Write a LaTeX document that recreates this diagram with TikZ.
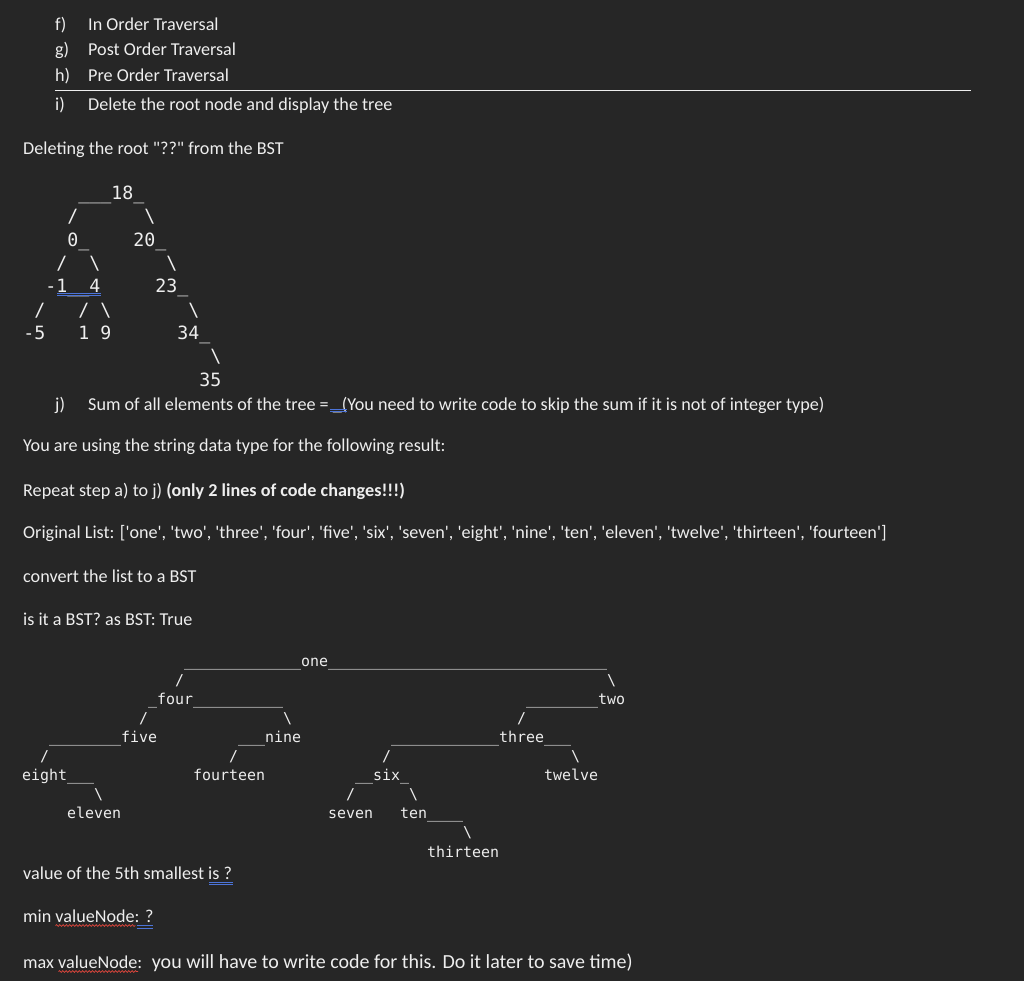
\documentclass[tikz,border=0pt]{standalone}
\usepackage{fontspec}
\setmainfont{Carlito}[Ligatures=TeXOff]
\setmonofont{DejaVu Sans Mono}
\usepackage{tikz}
\usetikzlibrary{decorations.pathmorphing}
\definecolor{pgBack}{HTML}{262626}
\definecolor{pgText}{HTML}{EEEEEE}
\definecolor{chkBlue}{HTML}{4C74D9}
\definecolor{chkRed}{HTML}{E0463C}
\newcommand{\us}[1]{\foreach \k in {1,...,#1}{\_}}
\newcommand{\bs}{\textbackslash}

\begin{document}
\begin{tikzpicture}[x=1pt,y=-1pt,
  txt/.style={anchor=base west,inner sep=0pt,text=pgText,font=\fontsize{18.15}{22}\selectfont},
  big/.style={txt,font=\fontsize{20}{24}\selectfont},
  asciiA/.style={anchor=base west,inner sep=0pt,text=pgText,font=\fontsize{18.27}{22}\ttfamily},
  asciiB/.style={anchor=base west,inner sep=0pt,text=pgText,font=\fontsize{14.95}{18}\ttfamily},
  gram/.style={draw=chkBlue,line width=0.9pt},
  spell/.style={draw=chkRed,line width=0.7pt,decorate,
                decoration={snake,segment length=3.3pt,amplitude=0.9pt}}]

\fill[pgBack] (0,0) rectangle (1024,981);

% list items f) to i)
\node[txt] (lf) at (55,30.7) {f)};
\node[txt] (tf) at (88,30.7) {In Order Traversal};
\node[txt] (lg) at (55,56) {g)};
\node[txt] (tg) at (88,56) {Post Order Traversal};
\node[txt] (lh) at (55,82) {h)};
\node[txt] (th) at (88,82) {Pre Order Traversal};
\draw[pgText,line width=1.5pt] (55,90.7) -- (971,90.7);
\node[txt] (li) at (55,110.7) {i)};
\node[txt] (ti) at (88,110.7) {Delete the root node and display the tree};

\node[txt] (del) at (23,155) {Deleting the root "??" from the BST};

% integer tree
\begin{scope}[shift={(23.2,199.6)},x=11pt,y=-23.3pt]
\node[asciiA] (n18) at (5,0) {\us{3}18\_};
\node[asciiA] (e18a) at (4,1) {/};
\node[asciiA] (e18b) at (11,1) {\bs};
\node[asciiA] (n0) at (4,2) {0\_};
\node[asciiA] (n20) at (10,2) {20\_};
\node[asciiA] (e0a) at (3,3) {/};
\node[asciiA] (e0b) at (6,3) {\bs};
\node[asciiA] (e20) at (13,3) {\bs};
\node[asciiA] (n1m) at (2,4) {-1\_\_4};
\node[asciiA] (n23) at (12,4) {23\_};
\node[asciiA] (e1a) at (1,5) {/};
\node[asciiA] (e4a) at (5,5) {/};
\node[asciiA] (e4b) at (7,5) {\bs};
\node[asciiA] (e23) at (15,5) {\bs};
\node[asciiA] (n5m) at (0,6) {-5};
\node[asciiA] (n1) at (5,6) {1};
\node[asciiA] (n9) at (7,6) {9};
\node[asciiA] (n34) at (14,6) {34\_};
\node[asciiA] (e34) at (17,7) {\bs};
\node[asciiA] (n35) at (16,8) {35};
\end{scope}
\draw[gram] (57.3,293) -- (100.7,293);
\draw[gram] (57.3,295.5) -- (100.7,295.5);

\node[txt] (lj) at (55,410) {j)};
\node[txt] (tj) at (88,410) {Sum of all elements of the tree = \_(You need to write code to skip the sum if it is not of integer type)};
\draw[gram] (330,409) -- (347,409);
\draw[gram] (330,411.5) -- (347,411.5);

\node[txt] (str) at (23,451.7) {You are using the string data type for the following result:};
\node[txt] (rep) at (23,496) {Repeat step a) to j) \textbf{(only 2 lines of code changes!!!)}};
\node[txt] (org) at (23,538) {Original List: ['one', 'two', 'three', 'four', 'five', 'six', 'seven', 'eight', 'nine', 'ten', 'eleven', 'twelve', 'thirteen', 'fourteen']};
\node[txt] (cnv) at (23,582) {convert the list to a BST};
\node[txt] (isb) at (23,625) {is it a BST? as BST: True};

% string tree
\begin{scope}[shift={(22,666)},x=9pt,y=-19.1pt]
\node[asciiB] (sOne) at (18,0) {\us{13}one\us{31}};
\node[asciiB] (eOneA) at (17,1) {/};
\node[asciiB] (eOneB) at (65,1) {\bs};
\node[asciiB] (sFour) at (14,2) {\_four\us{10}};
\node[asciiB] (sTwo) at (56,2) {\us{8}two};
\node[asciiB] (eFourA) at (13,3) {/};
\node[asciiB] (eFourB) at (29,3) {\bs};
\node[asciiB] (eTwo) at (55,3) {/};
\node[asciiB] (sFive) at (3,4) {\us{8}five};
\node[asciiB] (sNine) at (24,4) {\us{3}nine};
\node[asciiB] (sThree) at (41,4) {\us{12}three\us{3}};
\node[asciiB] (eFive) at (2,5) {/};
\node[asciiB] (eNine) at (23,5) {/};
\node[asciiB] (eThreeA) at (40,5) {/};
\node[asciiB] (eThreeB) at (61,5) {\bs};
\node[asciiB] (sEight) at (0,6) {eight\us{3}};
\node[asciiB] (sFourteen) at (19,6) {fourteen};
\node[asciiB] (sSix) at (37,6) {\us{2}six\_};
\node[asciiB] (sTwelve) at (58,6) {twelve};
\node[asciiB] (eEight) at (8,7) {\bs};
\node[asciiB] (eSixA) at (36,7) {/};
\node[asciiB] (eSixB) at (43,7) {\bs};
\node[asciiB] (sEleven) at (5,8) {eleven};
\node[asciiB] (sSeven) at (34,8) {seven};
\node[asciiB] (sTen) at (42,8) {ten\us{4}};
\node[asciiB] (eTen) at (49,9) {\bs};
\node[asciiB] (sThirteen) at (45,10) {thirteen};
\end{scope}

\node[txt] (kth) at (23,879) {value of the 5th smallest is ?};
\draw[gram] (209.3,882) -- (232.7,882);
\draw[gram] (209.3,884.5) -- (232.7,884.5);
\node[txt] (mn) at (23,922.7) {min valueNode: ?};
\draw[spell] (55.5,925.5) -- (135.3,925.5);
\draw[gram] (136.6,925.5) -- (152.6,925.5);
\draw[gram] (136.6,928) -- (152.6,928);
\node[txt] (mx) at (23,968) {max valueNode:};
\node[big] (mxr) at (151.7,968) {you will have to write code for this. Do it later to save time)};
\draw[spell] (58.5,971.5) -- (138,971.5);
\end{tikzpicture}
\end{document}
